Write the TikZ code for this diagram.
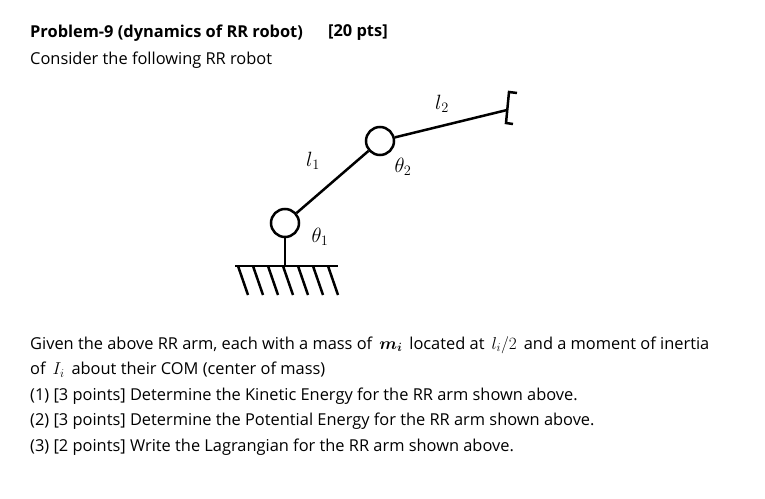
\documentclass[tikz,border=0pt]{standalone}
\usepackage{fontspec}
\usepackage{amsmath}
\usepackage{bm}
\setmainfont{Open Sans}
\newcommand{\bodysz}{\fontsize{16.4bp}{18bp}\selectfont}
\newcommand{\mathsz}{\fontsize{18.5bp}{18bp}\selectfont}
\begin{document}
\begin{tikzpicture}[x=1bp,y=-1bp,
  txt/.style={anchor=west,inner sep=0,font=\bodysz},
  lnk/.style={line width=2.5bp},
  jnt/.style={circle,draw,line width=2.5bp,minimum size=28bp,inner sep=0},
  lab/.style={inner sep=0,font=\fontsize{19bp}{20bp}\selectfont}]
\useasboundingbox (0,0) rectangle (765,499);
\node[txt,font=\bodysz\bfseries] (t1) at (30,33) {Problem-9 (dynamics of RR robot)};
\node[txt,font=\bodysz\bfseries] (t1b) at (328,33) {[20 pts]};
\node[txt] (t2) at (30,60) {Consider the following RR robot};
\node[jnt] (j1) at (285,223) {};
\node[jnt] (j2) at (380,141) {};
\coordinate (ee) at (507,110);
\coordinate (gnd) at (285,266);
\draw[lnk] (j1) -- (j2);
\draw[lnk] (j2) -- (ee);
\draw[lnk] (j1) -- (gnd);
\draw[lnk] (235,266) -- (338,266);
\foreach \x in {238,253,268,283,298,313,328} \draw[lnk] (\x,266) -- (\x+10,295);
\draw[lnk] (513,124) -- (506,123) -- (509,92) -- (517,93);
\node[lab] (l1) at (313,161) {$l_1$};
\node[lab] (l2) at (442,104) {$l_2$};
\node[lab] (th1) at (320,237) {$\theta_1$};
\node[lab] (th2) at (403,167) {$\theta_2$};
\node[txt] (p1) at (30,345) {Given the above RR arm, each with a mass of\, {\mathsz$\bm{m_i}$}\, located at\, {\mathsz$l_i/2$}\, and a moment of inertia};
\node[txt] (p2) at (30,370) {of\, {\mathsz$I_i$}\, about their COM (center of mass)};
\node[txt] (p3) at (30,396) {(1) [3 points] Determine the Kinetic Energy for the RR arm shown above.};
\node[txt] (p4) at (30,421) {(2) [3 points] Determine the Potential Energy for the RR arm shown above.};
\node[txt] (p5) at (30,447) {(3) [2 points] Write the Lagrangian for the RR arm shown above.};
\end{tikzpicture}
\end{document}
